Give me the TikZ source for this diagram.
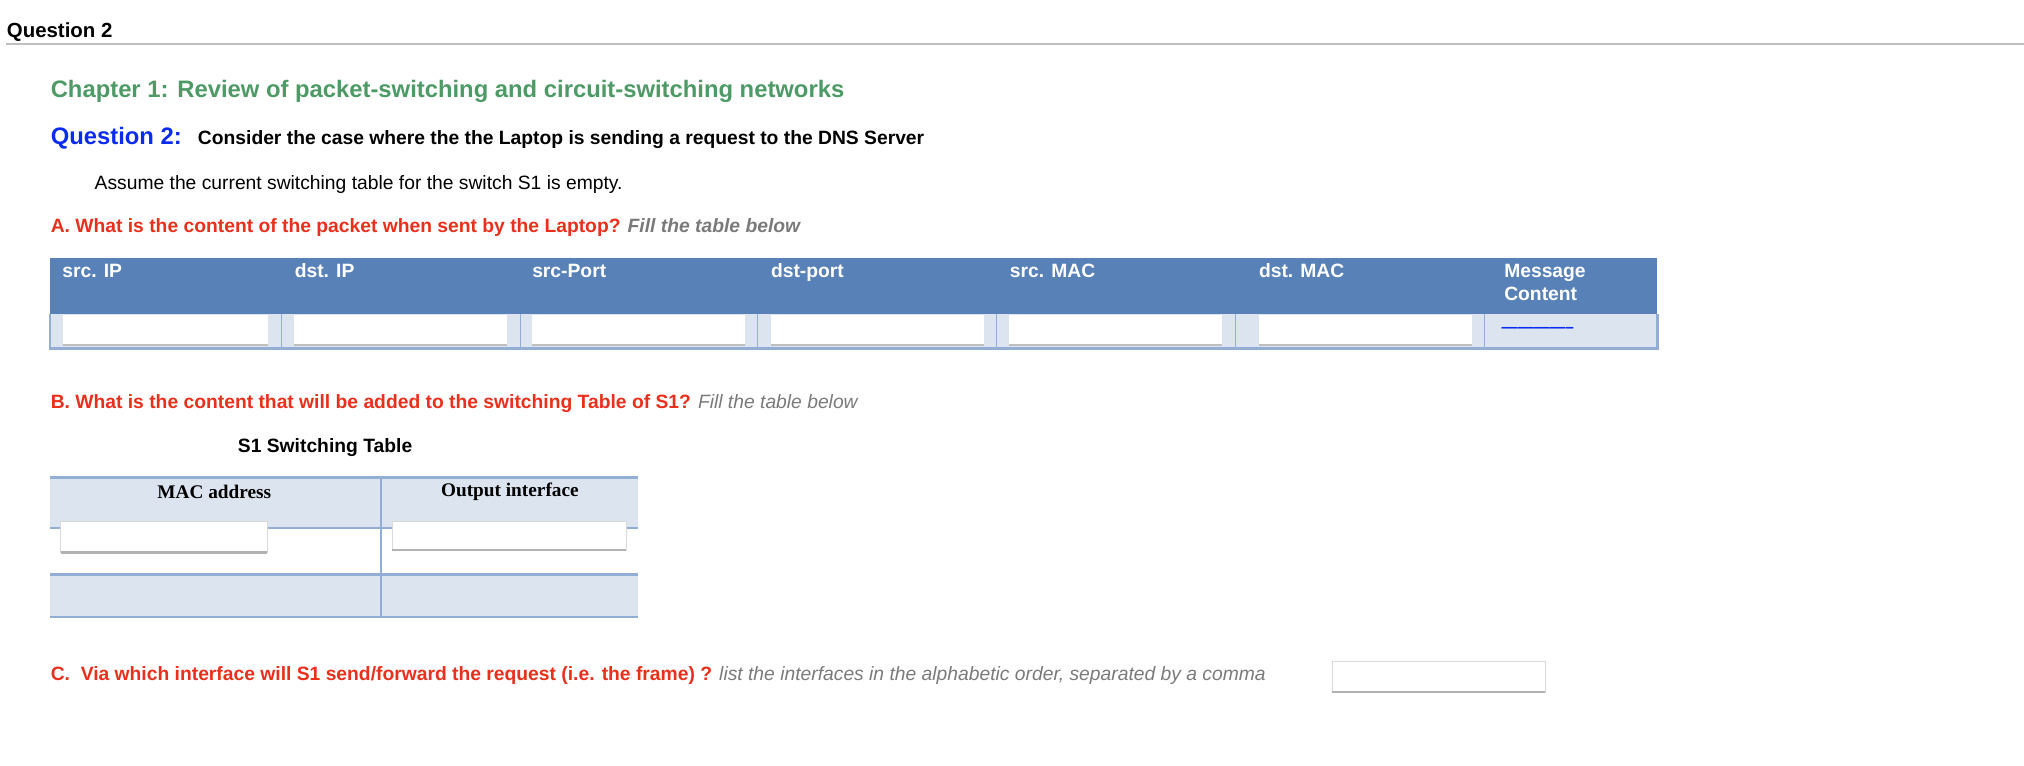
\documentclass[tikz,border=0pt]{standalone}
\usepackage{fontspec}
\setmainfont{Liberation Sans}
\newfontfamily\tms{Liberation Serif}
\definecolor{hdr}{HTML}{5881B8}
\definecolor{lite}{HTML}{DCE4F0}
\definecolor{lnb}{HTML}{93AED4}
\definecolor{grn}{HTML}{4E9A66}
\definecolor{qred}{HTML}{E8301C}
\definecolor{qblue}{HTML}{0A2BF0}
\definecolor{gtx}{HTML}{7A7A7A}
\begin{document}
\begin{tikzpicture}[x=0.02cm,y=-0.02cm,
  txt/.style={anchor=west,inner sep=0pt,font=\fontsize{8.5}{10}\selectfont},
  inbox/.style={fill=white,draw=black!15,line width=0.3pt},
  hd/.style={anchor=north west,inner sep=0pt,text=white,font=\bfseries\fontsize{8.5}{10.5}\selectfont,align=left}]
\useasboundingbox (0,0) rectangle (1568,593);
\node[txt,font=\bfseries\fontsize{9}{10}\selectfont] (q2) at (5,25) {Question 2};
\draw[black!25,line width=1pt] (5,34) -- (1568,34);
\node[txt,text=grn,font=\bfseries\fontsize{10.5}{12}\selectfont] (ch) at (39,71) {Chapter 1: Review of packet-switching and circuit-switching networks};
\node[txt,text=qblue,font=\bfseries\fontsize{10.5}{12}\selectfont] (qb) at (39,107) {Question 2:};
\node[txt,font=\bfseries\fontsize{8.5}{10}\selectfont] (qt) at (153,108) {Consider the case where the the Laptop is sending a request to the DNS Server};
\node[txt] (as) at (73,143) {Assume the current switching table for the switch S1 is empty.};
\node[txt,font=\bfseries\fontsize{8.5}{10}\selectfont] (qa) at (39,176) {\textcolor{qred}{A. What is the content of the packet when sent by the Laptop?} \textcolor{gtx}{\itshape Fill the table below}};
% table A
\fill[hdr] (39,200) rectangle (1284,243);
\fill[lite] (39,243) rectangle (1284,270);
\draw[lnb,line width=1pt] (39,243) -- (39,270) -- (1284,270) -- (1284,243);
\foreach \a/\b in {49/208,228/393,412/577,597/762,782/947,975/1140}{
  \fill[white] (\a,244) rectangle (\b,268);
  \draw[black!25,line width=1pt] (\a,267.5) -- (\b,267.5);
  \draw[lnb,line width=0.6pt] (\b+10,243) -- (\b+10,270);}
\node[hd] (h1) at (48,204) {src. IP};
\node[hd] (h2) at (228,204) {dst. IP};
\node[hd] (h3) at (412,204) {src-Port};
\node[hd] (h4) at (597,204) {dst-port};
\node[hd] (h5) at (782,204) {src. MAC};
\node[hd] (h6) at (975,204) {dst. MAC};
\node[hd] (h7) at (1165,204) {Message\\Content};
\node[txt,text=qblue,font=\bfseries\fontsize{7}{8}\selectfont] (dash) at (1163,256) {--------------};
% B
\node[txt,font=\bfseries\fontsize{8.5}{10}\selectfont] (qbb) at (39,313) {\textcolor{qred}{B. What is the content that will be added to the switching Table of S1?} \textcolor{gtx}{\mdseries\itshape Fill the table below}};
\node[txt,font=\bfseries\fontsize{8.5}{10}\selectfont] (st) at (184,347) {S1 Switching Table};
\fill[lite] (39,370) rectangle (494,409);
\fill[lite] (39,445) rectangle (494,478);
\draw[lnb,line width=1.5pt] (39,370) -- (494,370);
\draw[lnb,line width=1.2pt] (39,409) -- (494,409) (39,445) -- (494,445) (39,478) -- (494,478);
\draw[lnb,line width=1pt] (295,370) -- (295,478);
\node[anchor=center,inner sep=0pt,font=\tms\bfseries\fontsize{8.5}{10}\selectfont] (m1) at (166,381) {MAC address};
\node[anchor=center,inner sep=0pt,font=\tms\bfseries\fontsize{8.5}{10}\selectfont] (m2) at (395,381) {Output interface};
\draw[inbox] (47,404) rectangle (207,428);
\draw[black!30,line width=1pt] (47,428) -- (207,428);
\draw[inbox] (304,404) rectangle (485,426);
\draw[black!30,line width=1pt] (304,426) -- (485,426);
% C
\node[txt,font=\bfseries\fontsize{8.5}{10}\selectfont] (qc) at (39,523) {\textcolor{qred}{C.\ \ Via which interface will S1 send/forward the request (i.e. the frame) ?} \textcolor{gtx}{\mdseries\itshape list the interfaces in the alphabetic order, separated by a comma}};
\draw[inbox] (1032,512) rectangle (1197,536);
\draw[black!30,line width=0.8pt] (1032,536) -- (1197,536);
\end{tikzpicture}
\end{document}
